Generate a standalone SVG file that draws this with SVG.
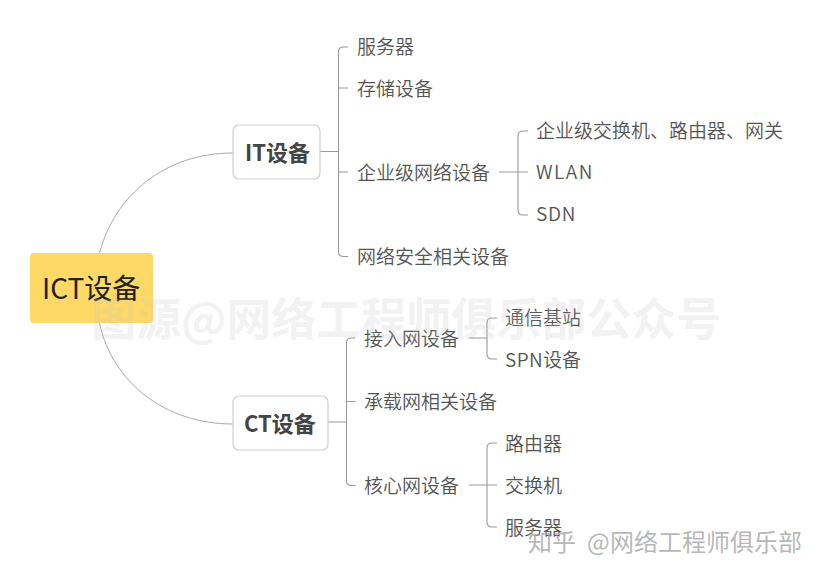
<svg xmlns="http://www.w3.org/2000/svg" width="822" height="576" viewBox="0 0 822 576">
<style>
text{font-family:"Noto Sans CJK SC","Microsoft YaHei","Liberation Sans",sans-serif}
.leaf{font-size:19px;fill:#555;font-weight:350}
.main{font-size:22px;font-weight:700;fill:#444}
.box{fill:#fff;stroke:#cfcfcf;stroke-width:1.2}
.c{fill:none;stroke:#999;stroke-width:1.1}
.arc{fill:none;stroke:#aaa;stroke-width:1}
</style>
<rect width="822" height="576" fill="#fff"/>
<g id="connectors">
<path class="arc" d="M99.500 253C115 195 165 153 233 153"/>
<path class="arc" d="M99.500 323C112 382 165 424 233 424"/>
<path class="c" d="M320 151.500H338.500M348 47H343.500Q338.500 47 338.500 52V251.500Q338.500 256.500 343.500 256.500H348M338.500 88H348M338.500 172H348"/>
<path class="c" d="M499 172H528M528 131H523Q518 131 518 136V210Q518 215 523 215H528"/>
<path class="c" d="M328 422H346.500M355.500 338H351.500Q346.500 338 346.500 343V480.500Q346.500 485.500 351.500 485.500H355.500M346.500 401.500H355.500"/>
<path class="c" d="M469 338H487M497 318H492Q487 318 487 323V354Q487 359 492 359H497"/>
<path class="c" d="M469 485H497M497 443H492Q487 443 487 448V522Q487 527 492 527H497"/>
</g>
<g id="root"><rect x="30" y="253" width="123" height="70" rx="4" fill="#ffd966"/><text x="42" y="298.500" font-size="28" fill="#222">ICT设备</text></g>
<g id="it"><rect class="box" x="233" y="125" width="87" height="54" rx="6"/><text class="main" x="245" y="160.500">IT设备</text></g>
<g id="ct"><rect class="box" x="233" y="396" width="95" height="54" rx="6"/><text class="main" x="244" y="431.500">CT设备</text></g>
<g id="n1"><text class="leaf" x="357" y="53.700">服务器</text></g>
<g id="n2"><text class="leaf" x="357" y="95.700">存储设备</text></g>
<g id="n3"><text class="leaf" x="357" y="179.700">企业级网络设备</text></g>
<g id="n4"><text class="leaf" x="357" y="263.700">网络安全相关设备</text></g>
<g id="n5"><text class="leaf" x="536" y="137.700">企业级交换机、路由器、网关</text></g>
<g id="n6"><text class="leaf" x="536" y="179" letter-spacing="1.500">WLAN</text></g>
<g id="n7"><text class="leaf" x="536" y="221" letter-spacing="0.800">SDN</text></g>
<g id="n8"><text class="leaf" x="364" y="345.700">接入网设备</text></g>
<g id="n9"><text class="leaf" x="364" y="408.700">承载网相关设备</text></g>
<g id="n10"><text class="leaf" x="364" y="492.700">核心网设备</text></g>
<g id="n11"><text class="leaf" x="505" y="324.700">通信基站</text></g>
<g id="n12"><text class="leaf" x="505" y="366.500"><tspan letter-spacing="0.400">SPN</tspan>设备</text></g>
<g id="n13"><text class="leaf" x="505" y="450.700">路由器</text></g>
<g id="n14"><text class="leaf" x="505" y="492.700">交换机</text></g>
<g id="n15"><text class="leaf" x="505" y="534.700">服务器</text></g>
<text x="91" y="336" font-size="45" font-weight="700" fill="#c4c4c4" fill-opacity=".22">图源@网络工程师俱乐部公众号</text>
<text y="551" font-size="24" fill="#aaa" fill-opacity=".85"><tspan x="528">知乎</tspan><tspan x="587">@</tspan><tspan x="610">网络工程师俱乐部</tspan></text>
</svg>
